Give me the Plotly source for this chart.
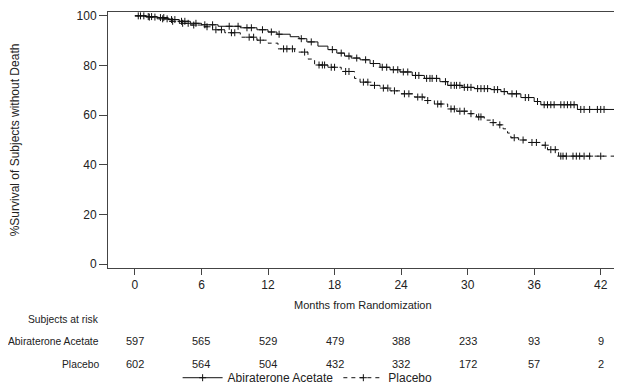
import numpy as np
import plotly.graph_objects as go

# ---------------- data ----------------
months_ticks = [0, 6, 12, 18, 24, 30, 36, 42]

abi_time = [0, 1.0, 2.0, 3.0, 4.0, 5.0, 6.0, 7.5, 9.5, 11.0, 12.0, 12.8, 14.0, 14.8, 15.5, 16.5,
            17.4, 18.2, 18.9, 19.5, 20.3, 21.2, 22.1, 23.0, 23.9, 25.0, 26.1, 27.5, 28.2, 29.5,
            30.6, 32.1, 33.0, 33.6, 34.8, 36.0, 36.6, 39.9, 43.5]
abi_surv = [100, 99.7, 99.3, 98.5, 97.8, 97.0, 96.4, 95.8, 95.2, 94.4, 93.5, 92.6, 91.6, 90.8, 89.5, 87.8,
            86.4, 85.0, 83.8, 83.0, 82.3, 80.8, 79.3, 78.3, 77.4, 76.0, 74.8, 73.5, 72.0, 71.2,
            70.7, 70.3, 69.5, 68.6, 67.1, 65.5, 64.2, 62.3, 62.3]
abi_censor = [0.3, 0.8, 1.2, 1.5, 2.3, 2.6, 3.3, 3.6, 4.2, 4.5, 5.5, 6.3, 7.0, 8.5, 9.3, 10.1, 10.5,
              11.5, 12.3, 13.0, 15.0, 15.9, 17.8, 18.6, 19.3, 20.0, 20.8, 21.5, 22.3, 22.7, 23.3,
              23.7, 24.2, 24.6, 25.3, 25.6, 26.3, 26.6, 26.8, 27.2, 28.0, 28.5, 28.8, 29.0, 29.3,
              29.7, 30.0, 30.3, 30.9, 31.2, 31.5, 31.8, 32.4, 32.7, 33.3, 34.0, 34.4, 35.2, 35.5,
              36.3, 36.9, 37.2, 37.5, 37.8, 38.4, 38.7, 39.0, 39.3, 39.6, 40.2, 40.5, 41.0, 41.7,
              42.0, 42.3, 43.5]

pla_time = [0, 1.0, 2.0, 3.0, 4.0, 5.0, 6.0, 7.0, 8.1, 9.5, 11.0, 12.0, 12.9, 14.4, 15.6, 16.2,
            17.4, 18.6, 19.8, 20.3, 21.2, 22.1, 23.0, 23.9, 25.2, 26.1, 27.0, 28.2, 29.0, 30.0,
            30.8, 31.5, 32.1, 32.7, 33.2, 33.6, 33.9, 34.6, 35.4, 36.6, 37.2, 38.1, 38.2, 43.5]
pla_surv = [100, 99.5, 98.8, 97.8, 97.0, 96.3, 95.6, 94.4, 93.2, 91.4, 90.2, 89.0, 86.7, 85.4, 82.6, 80.2,
            79.3, 77.6, 74.8, 73.3, 72.0, 70.9, 69.8, 68.6, 67.3, 65.9, 64.5, 62.5, 61.6, 60.6,
            59.3, 58.0, 57.0, 56.1, 54.5, 52.8, 50.9, 50.0, 49.0, 47.9, 46.1, 45.1, 43.5, 43.5]
pla_censor = [0.5, 1.3, 1.8, 2.5, 2.9, 3.4, 4.3, 4.8, 5.3, 6.5, 7.3, 7.8, 8.7, 9.0, 10.3, 10.7, 11.3,
              13.4, 13.7, 14.2, 15.3, 16.6, 16.9, 17.1, 17.7, 18.0, 19.0, 19.3, 20.6, 21.0, 21.6,
              22.4, 22.8, 23.4, 24.3, 24.7, 25.5, 25.9, 26.4, 27.3, 27.6, 28.5, 28.8, 29.3, 29.7,
              30.3, 31.0, 31.2, 32.3, 32.9, 34.2, 35.0, 35.8, 36.2, 37.0, 37.5, 37.9, 38.4, 38.6,
              38.9, 39.5, 39.8, 40.1, 40.5, 41.0, 42.0, 43.5]

risk_abi = [597, 565, 529, 479, 388, 233, 93, 9]
risk_pla = [602, 564, 504, 432, 332, 172, 57, 2]

# ---------------- helpers ----------------
def step_at(times, surv, t):
    idx = np.searchsorted(np.array(times), np.array(t), side="right") - 1
    return list(np.array(surv)[idx])

FONT = "Liberation Sans, Arial, sans-serif"
TXT = "#222222"
LINE = "#111111"
AX = "#444444"
DASH = "4px,4px"
MK = dict(symbol="cross-thin-open", size=5, color=LINE, line=dict(color=LINE, width=1))

fig = go.Figure()

fig.add_trace(go.Scatter(x=abi_time, y=abi_surv, mode="lines", line=dict(color=LINE, width=1, shape="hv"),
                         showlegend=False, hoverinfo="skip"))
fig.add_trace(go.Scatter(x=abi_censor, y=step_at(abi_time, abi_surv, abi_censor), mode="markers",
                         marker=MK, showlegend=False))
fig.add_trace(go.Scatter(x=pla_time, y=pla_surv, mode="lines",
                         line=dict(color=LINE, width=1, shape="hv", dash=DASH),
                         showlegend=False, hoverinfo="skip"))
fig.add_trace(go.Scatter(x=pla_censor, y=step_at(pla_time, pla_surv, pla_censor), mode="markers",
                         marker=MK, showlegend=False))

# legend-only traces
fig.add_trace(go.Scatter(x=[None], y=[None], mode="lines+markers", name="Abiraterone Acetate",
                         line=dict(color=LINE, width=1), marker=MK))
fig.add_trace(go.Scatter(x=[None], y=[None], mode="lines+markers", name="Placebo",
                         line=dict(color=LINE, width=1, dash=DASH), marker=MK))

def py2paper(py):
    return (267 - py) / 266.0

def px2paper(px):
    return (px - 100) / 521.0

annotations = []
def lab(px, py, text, size=11, xanchor="right", angle=0):
    annotations.append(dict(x=px2paper(px), y=py2paper(py), xref="paper", yref="paper", text=text,
                            xanchor=xanchor, yanchor="middle", showarrow=False, textangle=angle,
                            font=dict(size=size, color=TXT)))

lab(355, 305, "Months from Randomization", 11, "center")
lab(93, 320, "Subjects at risk", 10.3)
lab(93, 343, "Abiraterone Acetate", 10.3)
lab(93, 367, "Placebo", 10.3)

for t, n in zip(months_ticks, risk_abi):
    annotations.append(dict(x=t, y=py2paper(343), xref="x", yref="paper", text=str(n), showarrow=False,
                            yanchor="middle", font=dict(size=11, color=TXT)))
for t, n in zip(months_ticks, risk_pla):
    annotations.append(dict(x=t, y=py2paper(367), xref="x", yref="paper", text=str(n), showarrow=False,
                            yanchor="middle", font=dict(size=11, color=TXT)))

fig.update_layout(
    width=622, height=385,
    margin=dict(l=100, r=1, t=1, b=118),
    paper_bgcolor="white", plot_bgcolor="white",
    font=dict(family=FONT, size=11, color=TXT),
    annotations=annotations,
    legend=dict(orientation="h", x=px2paper(300), xanchor="center", y=py2paper(381), yanchor="middle",
                font=dict(size=12, color=TXT), bgcolor="rgba(0,0,0,0)", itemwidth=40,
                tracegroupgap=0, borderwidth=0),
)
fig.update_xaxes(range=[-2.43, 44.46], tickvals=months_ticks, ticktext=[str(v) for v in months_ticks],
                 showline=True, linecolor=AX, linewidth=1, mirror=True,
                 ticks="outside", ticklen=6, tickcolor=AX, showgrid=False, zeroline=False,
                 tickfont=dict(size=12, color=TXT))
fig.update_yaxes(range=[-1.55, 101.55], tickvals=[0, 20, 40, 60, 80, 100],
                 showline=True, linecolor=AX, linewidth=1, mirror=True,
                 ticks="outside", ticklen=8, tickcolor=AX, showgrid=False, zeroline=False,
                 ticklabeloverflow="allow",
                 tickfont=dict(size=12, color=TXT),
                 title=dict(text="%Survival of Subjects without Death", font=dict(size=12, color=TXT),
                            standoff=54))

fig.write_html("out.html")
